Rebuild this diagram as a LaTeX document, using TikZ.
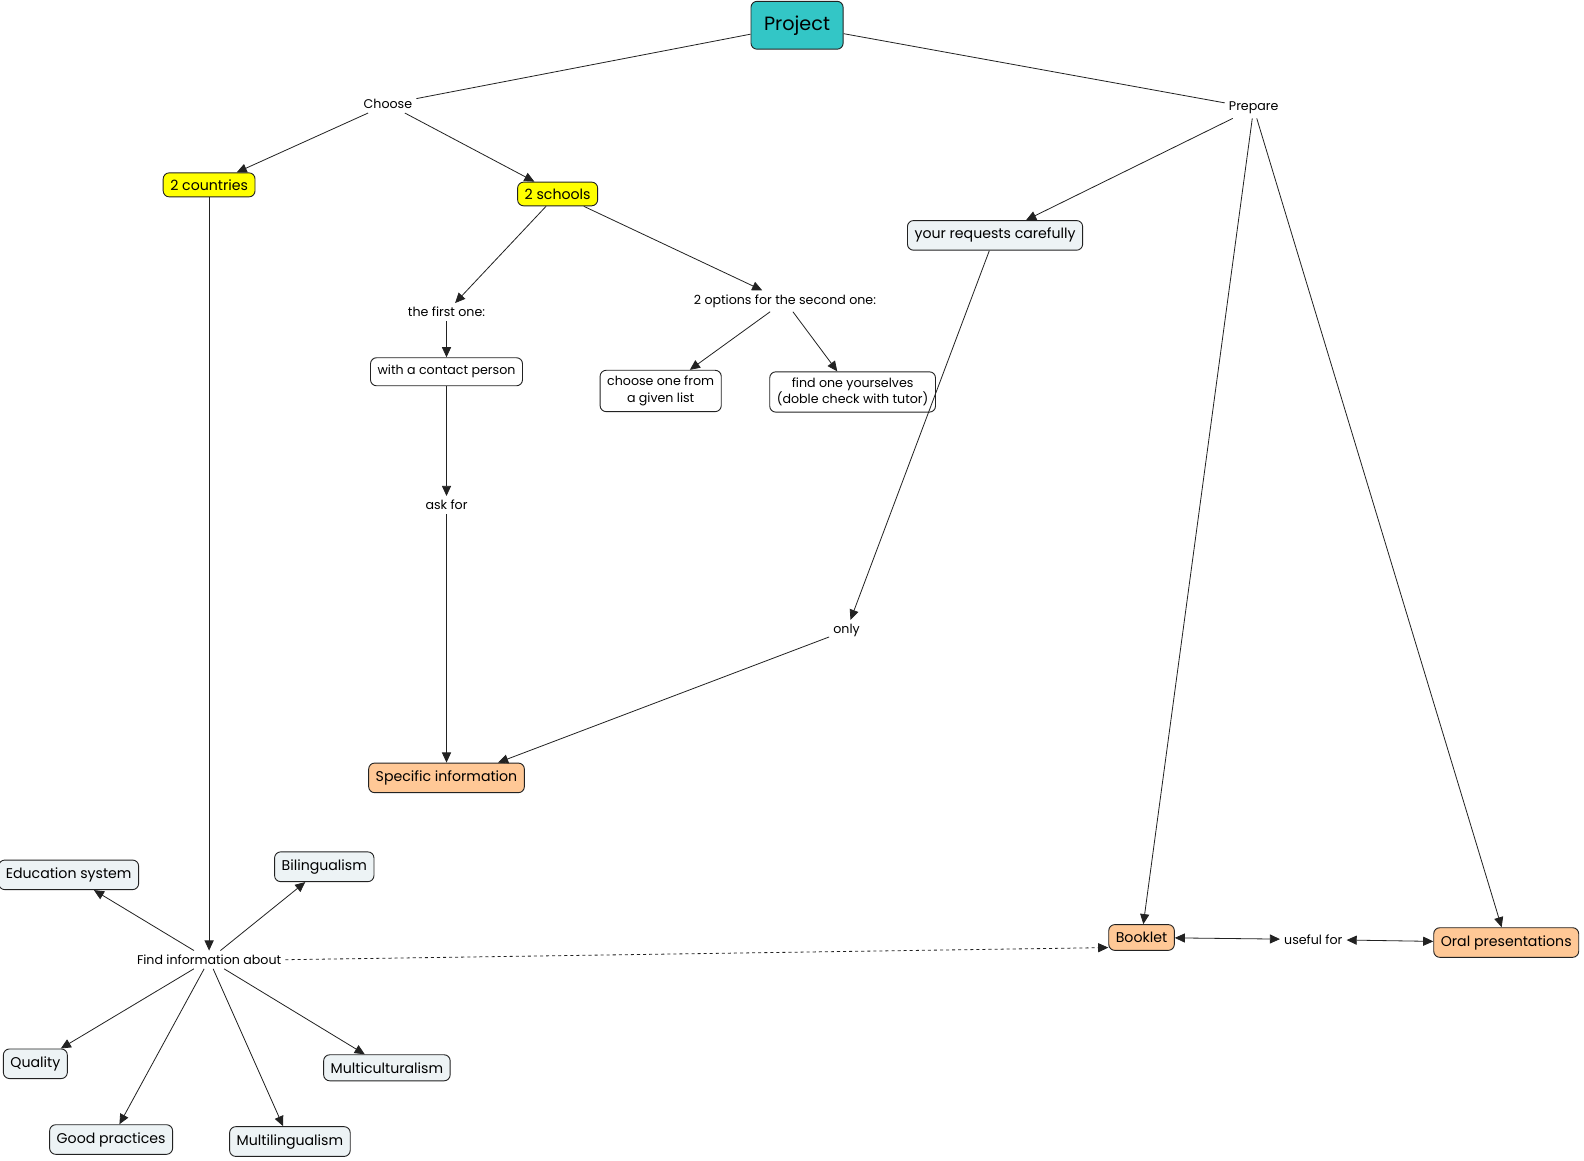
\documentclass[tikz,border=0pt]{standalone}
\usepackage{fontspec}
\setmainfont{Poppins}
\usetikzlibrary{arrows.meta}
\definecolor{projteal}{HTML}{33C6C6}
\definecolor{choiceyel}{HTML}{FFFF00}
\definecolor{goalorange}{HTML}{FFC896}
\definecolor{topicgray}{HTML}{EDF3F5}
\definecolor{bk90}{HTML}{222222}
\tikzset{
  concept/.style={
    rectangle, rounded corners=6pt, draw=bk90, fill=#1, line width=0.9pt,
    font=\fontsize{14}{17}\selectfont, align=center,
    inner xsep=7pt, inner ysep=7.5pt
  },
  concept/.default=white,
  smallconcept/.style={
    concept=white, font=\fontsize{12.5}{16}\selectfont
  },
  linkword/.style={
    font=\fontsize{12.5}{15}\selectfont, inner sep=4pt
  },
  conn/.style={line width=0.8pt, draw=bk90},
  arr/.style={conn, -{Triangle[length=10pt,width=9pt]}},
  twoarr/.style={conn, {Triangle[length=10pt,width=9pt]}-{Triangle[length=10pt,width=9pt]}},
}
\begin{document}
\begin{tikzpicture}[x=1pt,y=-1pt]
\useasboundingbox (0,0) rectangle (1568,1149);
% top
\node[concept=projteal, font=\fontsize{19}{22}\selectfont, inner xsep=13pt, inner ysep=14pt] (project) at (789,25) {Project};
\node[linkword] (choose) at (384,103) {Choose};
\node[linkword] (prepare) at (1241,107) {Prepare};
% choose branch
\node[concept=choiceyel, inner ysep=6.5pt] (countries) at (207,183) {2 countries};
\node[concept=choiceyel, inner ysep=6.5pt] (schools) at (552,192) {2 schools};
\node[linkword] (firstone) at (442,309) {the first one:};
\node[linkword] (options) at (777,298) {2 options for the second one:};
\node[smallconcept] (contact) at (442,368) {with a contact person};
\node[smallconcept, inner ysep=6pt] (givenlist) at (654,387) {choose one from\\a given list};
\node[smallconcept, inner ysep=6pt] (yourselves) at (844,388) {find one yourselves\\(doble check with tutor)};
\node[linkword] (askfor) at (442,500) {ask for};
\node[linkword] (only) at (838,624) {only};
\node[concept=goalorange] (specific) at (442,770) {Specific information};
% prepare branch
\node[concept=topicgray] (requests) at (985,233) {your requests carefully};
\node[concept=goalorange] (booklet) at (1130,928) {Booklet};
\node[linkword] (useful) at (1300,930) {useful for};
\node[concept=goalorange] (oral) at (1491,933) {Oral presentations};
% topics
\node[linkword] (findinfo) at (207,950) {Find information about};
\node[concept=topicgray] (edusys) at (68,866) {Education system};
\node[concept=topicgray] (biling) at (321,858) {Bilingualism};
\node[concept=topicgray] (quality) at (35,1053) {Quality};
\node[concept=topicgray] (multicult) at (383,1057) {Multiculturalism};
\node[concept=topicgray] (goodprac) at (110,1128) {Good practices};
\node[concept=topicgray] (multiling) at (287,1130) {Multilingualism};

\draw[conn] (project) -- (choose);
\draw[conn] (project) -- (prepare);
\draw[arr] (choose) -- (countries);
\draw[arr] (choose) -- (schools);
\draw[arr] (countries) -- (findinfo);
\draw[arr] (schools) -- (firstone);
\draw[arr] (schools) -- (options);
\draw[arr] (firstone) -- (contact);
\draw[arr] (options) -- (givenlist);
\draw[arr] (options) -- (yourselves);
\draw[arr] (contact) -- (askfor);
\draw[arr] (askfor) -- (specific);
\draw[arr] (prepare) -- (requests);
\draw[arr] (prepare) -- (booklet);
\draw[arr] (prepare) -- (oral);
\draw[arr] (requests) -- (only);
\draw[arr] (only) -- ([xshift=51pt]specific.north);
\draw[arr] (findinfo) -- (edusys);
\draw[arr] (findinfo) -- (biling);
\draw[arr] (findinfo) -- (quality);
\draw[arr] (findinfo) -- (goodprac);
\draw[arr] (findinfo) -- (multiling);
\draw[arr] (findinfo) -- (multicult);
\draw[arr, dashed] (findinfo.east) -- ([yshift=-10pt]booklet.west);
\draw[twoarr] (booklet) -- (useful);
\draw[twoarr] (useful) -- (oral);
\end{tikzpicture}
\end{document}
